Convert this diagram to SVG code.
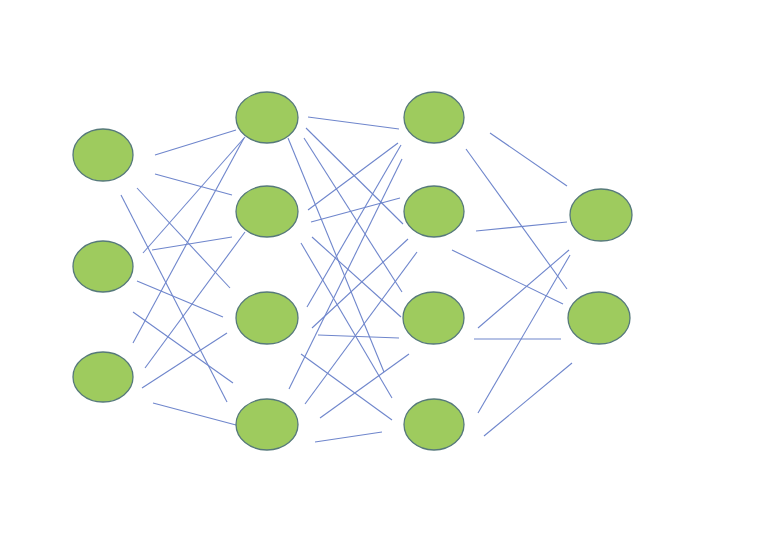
<svg xmlns="http://www.w3.org/2000/svg" width="768" height="537" viewBox="0 0 768 537">
<style>
.n{fill:#9ECB5E;stroke:#56797A;stroke-width:1.3}
.c line{stroke:#6F86CC;stroke-width:1.1;fill:none}
</style>
<rect width="768" height="537" fill="#FFFFFF"/>
<g id="connectors" class="c">
<line x1="155" y1="155" x2="236" y2="130"/>
<line x1="155" y1="174" x2="232" y2="195"/>
<line x1="137" y1="188" x2="230" y2="288"/>
<line x1="121" y1="195" x2="227" y2="402"/>
<line x1="143" y1="253" x2="245" y2="137"/>
<line x1="152" y1="250" x2="232" y2="237"/>
<line x1="137" y1="281" x2="223" y2="317"/>
<line x1="133" y1="312" x2="233" y2="383"/>
<line x1="133" y1="343" x2="244" y2="138"/>
<line x1="145" y1="368" x2="245" y2="232"/>
<line x1="142" y1="388" x2="227" y2="333"/>
<line x1="153" y1="403" x2="236" y2="425"/>
<line x1="308" y1="117" x2="399" y2="129"/>
<line x1="306" y1="128" x2="403" y2="224"/>
<line x1="304" y1="138" x2="402" y2="292"/>
<line x1="288" y1="138" x2="384" y2="372"/>
<line x1="308" y1="210" x2="398" y2="143"/>
<line x1="311" y1="222" x2="400" y2="198"/>
<line x1="312" y1="237" x2="401" y2="317"/>
<line x1="301" y1="243" x2="392" y2="398"/>
<line x1="307" y1="307" x2="401" y2="145"/>
<line x1="312" y1="328" x2="408" y2="239"/>
<line x1="318" y1="335" x2="399" y2="338"/>
<line x1="301" y1="354" x2="392" y2="420"/>
<line x1="289" y1="389" x2="402" y2="159"/>
<line x1="305" y1="404" x2="417" y2="252"/>
<line x1="320" y1="418" x2="409" y2="354"/>
<line x1="315" y1="442" x2="382" y2="432"/>
<line x1="490" y1="133" x2="567" y2="186"/>
<line x1="466" y1="149" x2="567" y2="289"/>
<line x1="476" y1="231" x2="567" y2="222"/>
<line x1="452" y1="250" x2="563" y2="304"/>
<line x1="478" y1="328" x2="569" y2="250"/>
<line x1="474" y1="339" x2="561" y2="339"/>
<line x1="478" y1="413" x2="570" y2="255"/>
<line x1="484" y1="436" x2="572" y2="363"/>
</g>
<g id="in1"><ellipse class="n" cx="103" cy="155" rx="30" ry="26"/></g>
<g id="in2"><ellipse class="n" cx="103" cy="266.5" rx="30" ry="25.5"/></g>
<g id="in3"><ellipse class="n" cx="103" cy="377" rx="30" ry="25"/></g>
<g id="h1a"><ellipse class="n" cx="267" cy="117.5" rx="31" ry="25.5"/></g>
<g id="h1b"><ellipse class="n" cx="267" cy="211.5" rx="31" ry="25.5"/></g>
<g id="h1c"><ellipse class="n" cx="267" cy="318" rx="31" ry="26"/></g>
<g id="h1d"><ellipse class="n" cx="267" cy="424.5" rx="31" ry="25.5"/></g>
<g id="h2a"><ellipse class="n" cx="434" cy="117.5" rx="30" ry="25.5"/></g>
<g id="h2b"><ellipse class="n" cx="434" cy="211.5" rx="30" ry="25.5"/></g>
<g id="h2c"><ellipse class="n" cx="433.5" cy="318" rx="30.5" ry="26"/></g>
<g id="h2d"><ellipse class="n" cx="434" cy="424.5" rx="30" ry="25.5"/></g>
<g id="out1"><ellipse class="n" cx="601" cy="215" rx="31" ry="26"/></g>
<g id="out2"><ellipse class="n" cx="599" cy="318" rx="31" ry="26"/></g>
</svg>
